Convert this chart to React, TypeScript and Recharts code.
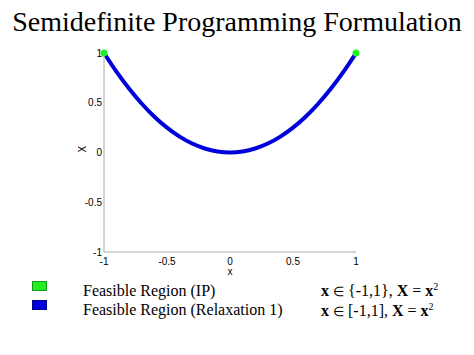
import { ComposedChart, Line, Scatter, XAxis, YAxis } from "recharts";

// relaxation curve samples
const xs = [-1, -0.9, -0.8, -0.7, -0.6, -0.5, -0.4, -0.3, -0.2, -0.1, 0, 0.1, 0.2, 0.3, 0.4, 0.5, 0.6, 0.7, 0.8, 0.9, 1];
const ys = [1, 0.81, 0.64, 0.49, 0.36, 0.25, 0.16, 0.09, 0.04, 0.01, 0, 0.01, 0.04, 0.09, 0.16, 0.25, 0.36, 0.49, 0.64, 0.81, 1];

// integer points (IP)
const ipX = [-1, 1];
const ipY = [1, 1];

const xTicks = [-1, -0.5, 0, 0.5, 1];
const yTicks = [-1, -0.5, 0, 0.5, 1];

const curveData = xs.map((x, i) => ({ x, y: ys[i] }));
const ipData = ipX.map((x, i) => ({ x, y: ipY[i] }));

const serif = "'Liberation Serif', 'Times New Roman', serif";
const sans = "'Liberation Sans', Arial, sans-serif";

const GreenDot = (props: any) => {
  const { cx, cy } = props;
  return <circle cx={cx} cy={cy} r={3.5} fill="#22ee22" />;
};

export default function App() {
  return (
    <div style={{ position: "absolute", left: 0, top: 0, width: 474, height: 355, background: "#fff", overflow: "hidden" }}>
      <div
        style={{
          position: "absolute",
          top: 6,
          left: 0,
          width: 474,
          textAlign: "center",
          fontFamily: serif,
          fontSize: 28,
          color: "#000",
        }}
      >
        Semidefinite Programming Formulation
      </div>

      <div style={{ position: "absolute", left: 0, top: 0 }}>
        <ComposedChart width={474} height={290} margin={{ top: 53, right: 118, left: 54, bottom: 8 }}>
          <XAxis
            dataKey="x"
            type="number"
            domain={[-1, 1]}
            ticks={xTicks}
            height={30}
            stroke="#aaa"
            tickLine={false}
            tickMargin={0}
            tick={{ fontSize: 10, fill: "#000", fontFamily: sans }}
            label={{ value: "x", position: "insideBottom", offset: 7, fontSize: 10, fill: "#000", fontFamily: sans }}
          />
          <YAxis
            dataKey="y"
            type="number"
            domain={[-1, 1]}
            ticks={yTicks}
            width={50}
            stroke="#aaa"
            tickLine={false}
            tickMargin={-4}
            tick={{ fontSize: 10, fill: "#000", fontFamily: sans }}
            label={{ value: "X", angle: -90, position: "insideLeft", offset: 28, fontSize: 10, fill: "#000", fontFamily: sans }}
          />
          <Line
            data={curveData}
            dataKey="y"
            type="monotone"
            stroke="#0000dd"
            strokeWidth={4}
            dot={false}
            activeDot={false}
            isAnimationActive={false}
          />
          <Scatter data={ipData} dataKey="y" shape={<GreenDot />} isAnimationActive={false} />
        </ComposedChart>
      </div>

      <div style={{ position: "absolute", left: 32, top: 281, width: 15, height: 10, background: "#22ee22", border: "1px solid #119911", boxSizing: "border-box" }} />
      <div style={{ position: "absolute", left: 32, top: 300, width: 15, height: 10, background: "#0000dd", border: "1px solid #000088", boxSizing: "border-box" }} />

      <div style={{ position: "absolute", left: 83, top: 281, fontFamily: serif, fontSize: 16, color: "#000", lineHeight: "19px" }}>
        <div>Feasible Region (IP)</div>
        <div>Feasible Region (Relaxation 1)</div>
      </div>
      <div style={{ position: "absolute", left: 321, top: 281, fontFamily: serif, fontSize: 16, color: "#000", lineHeight: "19px" }}>
        <div>
          <b>x</b> <span style={{ fontSize: 13 }}>∈</span> {"{-1,1}"}, <b>X</b> = <b>x</b>
          <sup style={{ fontSize: 10, lineHeight: 0 }}>2</sup>
        </div>
        <div>
          <b>x</b> <span style={{ fontSize: 13 }}>∈</span> [-1,1], <b>X</b> = <b>x</b>
          <sup style={{ fontSize: 10, lineHeight: 0 }}>2</sup>
        </div>
      </div>
    </div>
  );
}
